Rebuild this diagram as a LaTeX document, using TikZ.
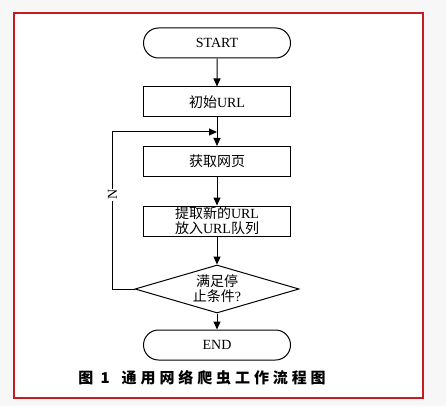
\documentclass[tikz,border=0pt]{standalone}
\usepackage{fontspec}
\setmainfont{Liberation Serif}
\newfontfamily\cjk{Noto Sans CJK SC}
\newfontfamily\cjkcap[LetterSpace=26]{Noto Sans CJK SC}
\usetikzlibrary{shapes.geometric,shapes.misc,arrows.meta}
\definecolor{framered}{RGB}{196,28,32}
\begin{document}
\begin{tikzpicture}[x=1pt,y=-1pt,font=\fontsize{14}{15}\selectfont]
    \tikzstyle{term}=[draw,rounded rectangle,minimum width=147pt,minimum height=30pt,inner sep=0pt]
    \tikzstyle{proc}=[draw,rectangle,minimum width=147pt,minimum height=30pt,inner sep=0pt,align=center]
    \tikzstyle{cond}=[draw,diamond,aspect=3.4,minimum width=164pt,minimum height=48pt,inner sep=0pt,align=center]
    \tikzstyle{flow}=[line width=1pt,-{Triangle[length=8pt,width=7pt]}]
    \useasboundingbox (0,0) rectangle (446,406);
    \fill[gray!6] (0,0) rectangle (446,406);
    \draw[framered,line width=1.8pt,fill=white] (14,13) rectangle (423,398);
    \path[line width=1pt]
    node[term] (start) at (217,43) {START}
    node[proc] (init) at (217,102) {{\cjk 初始}URL}
    node[proc] (fetch) at (217,161.5) {\cjk 获取网页}
    node[proc] (extract) at (217,221) {{\cjk 提取新的}URL\\{\cjk 放入}URL{\cjk 队列}}
    node[cond] (stop) at (217,289) {\cjk 满足停\\{\cjk 止条件}?}
    node[term] (end) at (217,345) {END};
    \coordinate (join) at (217,132);
    \draw[flow] (start) -- (init);
    \draw[flow] (init) -- (fetch);
    \draw[flow] (fetch) -- (extract);
    \draw[flow] (extract) -- (stop);
    \draw[flow] (stop) -- (end);
    \draw[flow] (stop.west) -- ++(-22,0) |- (join)
      node[pos=0.3,fill=white,inner sep=1pt,rotate=90] (no) {N};
    % caption
    \node (cap) at (202,378) {\cjkcap\bfseries\fontsize{15}{17}\selectfont 图 1\hspace{12pt}通用网络爬虫工作流程图};
\end{tikzpicture}
\end{document}
